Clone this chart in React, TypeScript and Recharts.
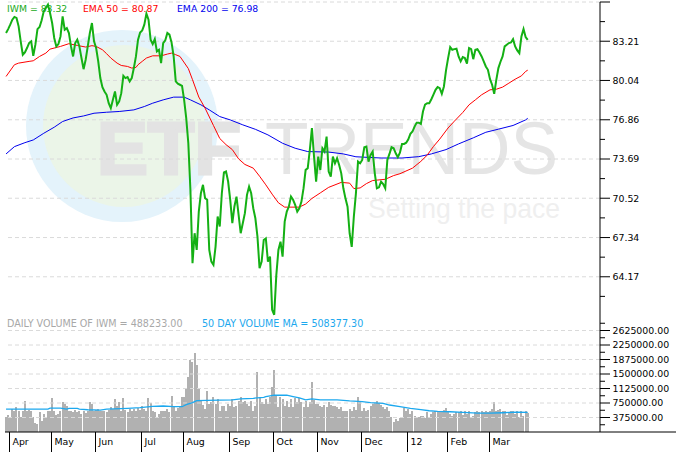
import React from 'react';
import { LineChart, ComposedChart, Line, Bar, XAxis, YAxis, ReferenceLine } from 'recharts';

const FONT = '"DejaVu Sans", Verdana, sans-serif';

// IWM daily close, one value per trading day (end of Mar 2011 .. Mar 2012)
const closes = [
  83.87, 84.19, 84.55, 84.95, 85.17, 85.09, 84.41, 83.2, 82.12, 82.3,
  82.66, 83.06, 83.2, 82.03, 82.93, 84.19, 84.36, 84.9, 85.63, 85.9,
  86.17, 85.49, 84.68, 83.47, 82.79, 82.98, 83.6, 85.22, 84.14, 84.27,
  83.87, 82.79, 81.98, 83.06, 83.33, 82.79, 81.85, 80.95, 81.71, 82.79,
  83.87, 84.68, 83.2, 82.66, 81.58, 80.23, 79.5, 79.15, 78.88, 78.2,
  77.8, 78.47, 79.15, 78.07, 78.34, 79.01, 80.41, 80.23, 80.31, 79.96,
  80.23, 81.04, 81.98, 83.33, 83.92, 84.09, 84.55, 85.44, 84.95, 83.33,
  82.98, 83.38, 82.39, 82.52, 81.44, 83.06, 83.28, 83.87, 83.74, 83.11,
  81.98, 79.96, 79.77, 79.69, 79.6, 78.47, 76.99, 74.96, 71.19, 65.26,
  67.69, 66.34, 69.44, 70.92, 71.6, 70.52, 70.39, 66.34, 65.4, 65.13,
  66.61, 69.04, 68.23, 70.92, 72.6, 72.68, 71.87, 70.39, 68.5, 69.85,
  70.65, 69.17, 67.69, 68.5, 69.31, 70.79, 71.46, 70.92, 69.71, 68.9,
  67.42, 64.86, 65.4, 67.15, 67.28, 65.4, 65.8, 61.5, 61.1, 64.3,
  66.34, 67.01, 65.8, 68.63, 69.44, 69.85, 70.65, 70.39, 69.98, 69.44,
  69.71, 70.25, 71.33, 72.81, 72.95, 74.42, 76.18, 73.88, 71.86, 73.88,
  72.8, 74.56, 74.29, 75.5, 72.67, 72.26, 73.88, 73.34, 73.75, 73.21,
  72.53, 71.32, 70.51, 69.83, 67.67, 66.59, 69.02, 70.91, 73.48, 73.34,
  73.61, 74.64, 74.69, 73.48, 74.02, 74.29, 72.53, 71.32, 71.4, 71.86,
  71.67, 71.32, 73.61, 74.1, 74.64, 74.56, 74.15, 73.83, 74.2, 74.91,
  74.91, 75.01, 75.28, 75.72, 75.91, 76.31, 76.63, 76.63, 76.53, 77.53,
  78.09, 78.2, 78.2, 78.52, 78.9, 79.28, 79.5, 79.42, 78.96, 79.55,
  80.85, 81.85, 82.74, 82.52, 82.57, 82.6, 81.98, 81.58, 81.93, 81.85,
  81.39, 82.66, 82.57, 81.76, 82.52, 82.57, 82.3, 81.98, 81.58, 81.17,
  80.9, 80.14, 79.69, 78.96, 80.09, 81.04, 81.55, 81.98, 82.79, 82.93,
  83.06, 83.11, 83.38, 82.79, 82.47, 82.25, 83.6, 84.19, 83.55, 83.32,
];

// moving averages as [day, value]
const ema50: [number, number][] = [
  [0, 80.36], [4, 81.31], [6, 81.44], [11, 81.58], [13, 81.63], [16, 81.98], [19, 82.25],
  [21, 82.57], [26, 82.79], [30, 83.01], [34, 82.87], [38, 82.74], [41, 82.85], [43, 82.79],
  [46, 82.52], [48, 82.2], [50, 81.85], [53, 81.44], [55, 81.25], [58, 81.17], [60, 81.04],
  [62, 81.09], [63, 81.31], [65, 81.58], [67, 81.85], [70, 82.03], [74, 82.03], [77, 82.17],
  [79, 82.25], [81, 82.12], [83, 81.98], [87, 81.0], [89, 80.1], [92, 78.7], [95, 77.8],
  [99, 76.4], [102, 75.35], [105, 74.85], [108, 74.45], [111, 73.7], [114, 73.25], [118, 72.95],
  [121, 72.3], [124, 71.6], [127, 70.85], [130, 70.15], [133, 69.8], [140, 69.8], [143, 70.05],
  [146, 70.5], [150, 70.95], [154, 71.4], [160, 71.8], [164, 71.74], [166, 71.3], [169, 71.35],
  [172, 71.7], [175, 71.95], [181, 72.05], [185, 72.35], [188, 72.5], [194, 72.95], [198, 73.5],
  [201, 74.0], [204, 74.7], [207, 75.3], [211, 76.2], [214, 76.75], [218, 77.45], [221, 78.07],
  [224, 78.47], [227, 78.88], [231, 79.28], [234, 79.33], [237, 79.5], [240, 79.82], [243, 80.14],
  [246, 80.41], [248, 80.77], [249, 80.87],
];

const ema200: [number, number][] = [
  [0, 74.1], [4, 74.69], [9, 75.01], [13, 75.23], [18, 75.77], [23, 76.26], [27, 76.72],
  [32, 77.01], [37, 77.17], [42, 77.39], [48, 77.47], [54, 77.53], [61, 77.66], [66, 77.93],
  [70, 78.2], [75, 78.47], [80, 78.69], [85, 78.69], [88, 78.47], [93, 78.07], [97, 77.66],
  [102, 77.12], [107, 76.85], [113, 76.45], [119, 76.09], [125, 75.64], [132, 74.96], [138, 74.56],
  [144, 74.29], [154, 74.25], [161, 74.1], [167, 73.87], [179, 73.77], [189, 73.77], [197, 73.88],
  [203, 74.1], [210, 74.45], [216, 74.91], [223, 75.4], [229, 75.85], [235, 76.1], [242, 76.4],
  [248, 76.85], [249, 76.98],
];

// daily volume, thousands of shares
const volumeK = [
  392, 445, 392, 593, 549, 654, 549, 392, 549, 794,
  549, 567, 549, 392, 244, 201, 506, 288, 462, 358,
  549, 549, 881, 549, 445, 462, 549, 767, 724, 680,
  549, 549, 506, 567, 506, 549, 462, 532, 480, 549,
  767, 724, 549, 567, 593, 549, 549, 549, 506, 567,
  637, 593, 855, 680, 767, 549, 872, 567, 506, 593,
  549, 593, 549, 619, 567, 680, 593, 549, 872, 741,
  549, 506, 375, 462, 549, 549, 549, 593, 506, 942,
  654, 549, 619, 680, 916, 916, 1116, 1422, 1858, 1814,
  2032, 1727, 1142, 811, 706, 593, 1073, 724, 767, 898,
  724, 855, 549, 680, 680, 549, 724, 680, 855, 637,
  680, 811, 898, 767, 811, 724, 680, 811, 549, 680,
  1552, 898, 767, 724, 855, 724, 898, 1160, 1613, 942,
  637, 916, 855, 680, 811, 637, 855, 637, 881, 767,
  881, 767, 637, 811, 654, 767, 1291, 829, 724, 724,
  680, 637, 706, 654, 767, 706, 680, 680, 637, 593,
  637, 549, 549, 532, 593, 549, 637, 567, 916, 767,
  549, 619, 549, 567, 680, 724, 741, 811, 741, 706,
  637, 593, 654, 549, 392, 270, 331, 288, 375, 392,
  619, 549, 593, 462, 549, 419, 375, 392, 410, 419,
  375, 506, 392, 462, 506, 549, 506, 506, 532, 567,
  619, 549, 462, 419, 462, 506, 506, 549, 445, 549,
  462, 549, 392, 419, 506, 549, 506, 549, 506, 549,
  506, 549, 593, 767, 549, 567, 593, 549, 549, 445,
  506, 549, 549, 462, 532, 392, 549, 419, 532, 488,
];

const volumeMaK: [number, number][] = [
  [0, 593], [20, 593], [21, 619], [26, 619], [29, 593], [30, 611], [34, 611], [35, 593],
  [39, 576], [45, 567], [48, 593], [58, 611], [64, 628], [70, 663], [75, 672], [80, 654],
  [84, 654], [86, 706], [89, 759], [91, 811], [96, 820], [108, 829], [112, 855], [118, 872],
  [123, 898], [124, 916], [128, 951], [134, 951], [137, 916], [140, 881], [143, 829], [146, 855],
  [150, 829], [158, 829], [164, 803], [170, 785], [174, 759], [180, 741], [183, 698], [188, 654],
  [193, 611], [198, 576], [202, 550], [206, 533], [212, 524], [218, 506], [225, 489], [231, 489],
  [237, 498], [244, 515], [249, 508],
];

const months = ['Apr', 'May', 'Jun', 'Jul', 'Aug', 'Sep', 'Oct', 'Nov', 'Dec', '12', 'Feb', 'Mar'];
const monthStart = [2, 22, 43, 65, 85, 107, 128, 149, 170, 192, 211, 231];

const priceLabels = [83.21, 80.04, 76.86, 73.69, 70.52, 67.34, 64.17];
const priceMinor = [84.795, 81.625, 78.45, 75.275, 72.105, 68.93, 65.755, 62.585];
const priceTop = 86.38;
const volLabels = [375, 750, 1125, 1500, 1875, 2250, 2625];
const volMinor = [187.5, 562.5, 937.5, 1312.5, 1687.5, 2062.5, 2437.5, 2812.5];

// day slots between the left edge and the price axis
const SLOTS = 284;

const priceRows = closes.map((v, d) => ({ d, v }));
const ema50Rows = ema50.map(([d, v]) => ({ d, v }));
const ema200Rows = ema200.map(([d, v]) => ({ d, v }));
const maByDay = new Map(volumeMaK);
const volumeRows = Array.from({ length: SLOTS }, (_, d) => ({
  d,
  vol: d < volumeK.length ? volumeK[d] : null,
  ma: maByDay.has(d) ? maByDay.get(d) : null,
}));

function AxisTick({ x, y, payload, labels, long, fmt }: any) {
  const v = payload.value;
  const isLabel = labels.includes(v);
  const isLong = isLabel || long.includes(v);
  return (
    <g>
      <line x1={x} x2={x + (isLong ? 10 : 5)} y1={y} y2={y} stroke="#000" />
      {isLabel && (
        <text x={x + 12.5} y={y + 3.4} fontSize={9.4} fontFamily={FONT} fill="#000" textAnchor="start">
          {fmt(v)}
        </text>
      )}
    </g>
  );
}

function MonthTick({ x, y, payload }: any) {
  const i = monthStart.indexOf(payload.value);
  if (i < 0) return <g />;
  const lx = Math.round(x - 1.05) + 0.5;
  return (
    <g>
      <line x1={lx} x2={lx} y1={y} y2={y + 20} stroke="#000" />
      <text x={lx + 3} y={y + 12.5} fontSize={9.4} fontFamily={FONT} fill="#000">
        {months[i]}
      </text>
    </g>
  );
}

function VolBar(props: any) {
  const { x, y, height } = props;
  if (!height || height <= 0) return <g />;
  const top = Math.round(y);
  const bottom = Math.round(y + height);
  return <rect x={Math.round(x)} y={top} width={2} height={bottom - top} fill="#b1b1b1" />;
}

const grid = { stroke: '#dadada', strokeDasharray: '4 3' };

export default function App() {
  const priceTicks = [priceTop, ...priceLabels, ...priceMinor].sort((a, b) => a - b);
  const volTicks = [...volLabels, ...volMinor].sort((a, b) => a - b);

  return (
    <div style={{ position: 'absolute', left: 0, top: 0, width: 676, height: 454, background: '#fff', fontFamily: FONT }}>
      <svg width={676} height={454} style={{ position: 'absolute', left: 0, top: 0 }}>
        <circle cx={122} cy={126} r={96} fill="#e4f3fb" />
        <circle cx={124} cy={126} r={81} fill="#ebf5e8" />
        <text x={97} y={174} fontSize={75} fontWeight={700} fill="#e3e3e3" stroke="#e3e3e3" strokeWidth={3}
          fontFamily="Liberation Sans, Arial, sans-serif" textLength={144} lengthAdjust="spacingAndGlyphs">ETF</text>
        <text x={265} y={174} fontSize={75} fill="#e5e5e5"
          fontFamily="Liberation Sans, Arial, sans-serif" textLength={293} lengthAdjust="spacingAndGlyphs">TRENDS</text>
        <text x={368} y={218} fontSize={28} fill="#efefef"
          fontFamily="Liberation Sans, Arial, sans-serif" textLength={192} lengthAdjust="spacingAndGlyphs">Setting the pace</text>
        <text x={7} y={12} fontSize={9.3} fill="#18aa18">IWM = 83.32</text>
        <text x={83} y={12} fontSize={9.3} fill="#ff0000">EMA 50 = 80.87</text>
        <text x={177} y={12} fontSize={9.3} fill="#0000ee">EMA 200 = 76.98</text>
        <text x={7} y={327} fontSize={9.6} fill="#a8a8a8">DAILY VOLUME OF IWM = 488233.00</text>
        <text x={202} y={327} fontSize={9.6} fill="#1ca8ee">50 DAY VOLUME MA = 508377.30</text>
      </svg>

      <div style={{ position: 'absolute', left: 0, top: 0 }}>
        <LineChart width={676} height={318} margin={{ top: 2, right: 0, bottom: 2, left: 5 }}>
          <XAxis type="number" dataKey="d" domain={[-0.5, SLOTS - 0.5]} hide allowDataOverflow />
          <YAxis
            orientation="right"
            width={76}
            type="number"
            domain={[61, priceTop]}
            ticks={priceTicks}
            interval={0}
            allowDataOverflow
            tickLine={false}
            tickSize={0}
            tickMargin={0}
            axisLine={{ stroke: '#000' }}
            tick={(p: any) => <AxisTick {...p} labels={priceLabels} long={[priceTop]} fmt={(v: number) => v.toFixed(2)} />}
          />
          {[priceTop, ...priceLabels].map((v) => (
            <ReferenceLine key={v} y={v} {...grid} />
          ))}
          <Line data={ema200Rows} dataKey="v" type="linear" stroke="#0000ee" strokeWidth={1} dot={false} isAnimationActive={false} />
          <Line data={ema50Rows} dataKey="v" type="linear" stroke="#ff0000" strokeWidth={1} dot={false} isAnimationActive={false} />
          <Line data={priceRows} dataKey="v" type="linear" stroke="#14b014" strokeWidth={2} dot={false} isAnimationActive={false} />
        </LineChart>
      </div>

      <div style={{ position: 'absolute', left: 0, top: 316 }}>
        <ComposedChart width={676} height={138} data={volumeRows} margin={{ top: 0, right: 0, bottom: 0, left: 5 }} barCategoryGap={0} barGap={0}>
          <XAxis
            dataKey="d"
            type="category"
            interval={0}
            height={22}
            tickLine={false}
            tickSize={0}
            tickMargin={0}
            axisLine={{ stroke: '#000' }}
            tick={(p: any) => <MonthTick {...p} />}
          />
          <YAxis
            orientation="right"
            width={76}
            type="number"
            domain={[0, 3000]}
            ticks={volTicks}
            interval={0}
            allowDataOverflow
            tickLine={false}
            tickSize={0}
            tickMargin={0}
            axisLine={{ stroke: '#000' }}
            tick={(p: any) => <AxisTick {...p} labels={volLabels} long={[]} fmt={(v: number) => (v * 1000).toFixed(2)} />}
          />
          {volLabels.map((v) => (
            <ReferenceLine key={v} y={v} {...grid} />
          ))}
          <Bar dataKey="vol" shape={VolBar} isAnimationActive={false} />
          <Line dataKey="ma" type="linear" connectNulls stroke="#1ca8ee" strokeWidth={1.3} dot={false} isAnimationActive={false} />
        </ComposedChart>
      </div>

      <svg width={676} height={454} style={{ position: 'absolute', left: 0, top: 0, pointerEvents: 'none' }}>
        <line x1={600} x2={676} y1={432} y2={432} stroke="#000" />
      </svg>
    </div>
  );
}
